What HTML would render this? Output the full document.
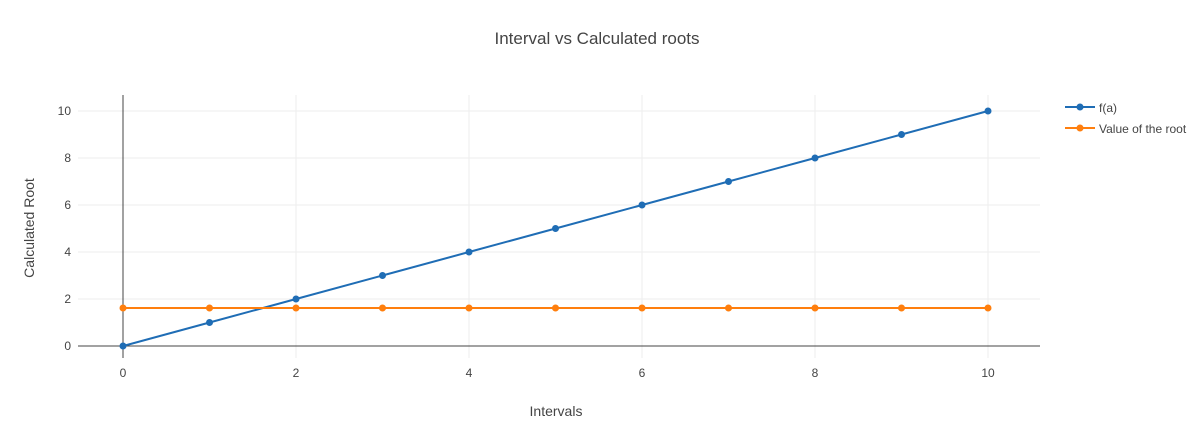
<!DOCTYPE html>
<html><head><meta charset="utf-8"><style>
body{margin:0;background:#fff;font-family:"Liberation Sans",sans-serif}
svg text{font-family:"Liberation Sans",sans-serif}
</style></head><body>
<svg id="chart" width="1195" height="426" xmlns="http://www.w3.org/2000/svg">
<rect width="1195" height="426" fill="#fff"/>
<text x="597" y="44" text-anchor="middle" font-size="17" fill="#444">Interval vs Calculated roots</text>
<g id="grid"></g>
<g id="axes"></g>
<g id="series"></g>
<text x="556" y="416" text-anchor="middle" font-size="14" fill="#444">Intervals</text>
<text transform="translate(34,228) rotate(-90)" text-anchor="middle" font-size="14" fill="#444">Calculated Root</text>
<g>
<g>
<line x1="1065" y1="107" x2="1095" y2="107" stroke="#1f6db5" stroke-width="2"/><circle cx="1080" cy="107" r="3.5" fill="#1f6db5"/>
<text x="1099" y="112" font-size="12" fill="#444">f(a)</text></g>
<g>
<line x1="1065" y1="128" x2="1095" y2="128" stroke="#ff7f0e" stroke-width="2"/><circle cx="1080" cy="128" r="3.5" fill="#ff7f0e"/>
<text x="1099" y="133" font-size="12" fill="#444">Value of the root</text></g>
</g>
</svg>
<script>
const xValues=[0,1,2,3,4,5,6,7,8,9,10];
const faValues=[0,1,2,3,4,5,6,7,8,9,10];
const rootValues=[1.618,1.618,1.618,1.618,1.618,1.618,1.618,1.618,1.618,1.618,1.618];
const xTicks=[0,2,4,6,8,10];
const yTicks=[0,2,4,6,8,10];
const NS="http://www.w3.org/2000/svg";
const L=78,R=1040,T=95,B=358;
const xs=v=>123+v*86.5;
const ys=v=>346-v*23.5;
function mk(tag,attrs,parent){const e=document.createElementNS(NS,tag);for(const k in attrs)e.setAttribute(k,attrs[k]);parent.appendChild(e);return e;}
const grid=document.getElementById('grid'),axes=document.getElementById('axes'),series=document.getElementById('series');
xTicks.forEach(t=>{
 if(t!==0){const g=mk('line',{x1:xs(t),x2:xs(t),y1:T,y2:B,stroke:'#eee'},grid);
 
 }
 const tx=mk('text',{x:xs(t),y:377,'text-anchor':'middle','font-size':12,fill:'#444'},axes);tx.textContent=t;
 
 
});
yTicks.forEach(t=>{
 if(t!==0){const g=mk('line',{x1:L,x2:R,y1:ys(t),y2:ys(t),stroke:'#eee'},grid);
 
 }
 const tx=mk('text',{x:71,y:ys(t)+4,'text-anchor':'end','font-size':12,fill:'#444'},axes);tx.textContent=t;
 
 
});
const zx=mk('line',{x1:L,x2:R,y1:ys(0),y2:ys(0),stroke:'#444'},axes);


const zy=mk('line',{x1:xs(0),x2:xs(0),y1:T,y2:B,stroke:'#444'},axes);


function draw(vals,color,name){
 const p=mk('polyline',{points:xValues.map((x,i)=>xs(x)+','+ys(vals[i])).join(' '),fill:'none',stroke:color,'stroke-width':2},series);
 
 
 xValues.forEach((x,i)=>{const c=mk('circle',{cx:xs(x),cy:ys(vals[i]),r:3.5,fill:color},series);
 
 });
}
draw(faValues,'#1f6db5','fa');
draw(rootValues,'#ff7f0e','root');
</script>
</body></html>
